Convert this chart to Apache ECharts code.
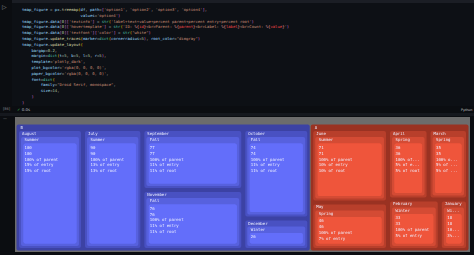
<!DOCTYPE html>
<html><head><meta charset="utf-8">
<script src="https://cdn.jsdelivr.net/npm/echarts@6/dist/echarts.min.js"></script>
<style>
html,body{margin:0;padding:0;background:#0b0d11;width:474px;height:255px;overflow:hidden;}
#topbar{position:absolute;left:12px;top:0;width:462px;height:3px;background:#1b1e25;}
#cell{position:absolute;left:12px;top:3px;width:462px;height:103px;background:#0d1015;}
#code{position:absolute;left:22px;top:7px;margin:0;font-family:'DejaVu Sans Mono',monospace;font-size:3.9px;line-height:5.8px;color:#d4d4d4;white-space:pre;}
.g{position:absolute;font-family:'DejaVu Sans',sans-serif;color:#8a8d93;}
#sep{position:absolute;left:0;top:113px;width:474px;height:3px;background:#15181e;}
#chart{position:absolute;left:0;top:0;width:474px;height:255px;}
</style></head>
<body>
<div id="topbar"></div>
<div id="cell"></div>
<pre id="code"></pre>
<div class="g" style="left:2px;top:3px;font-size:6px;">▷</div>
<div class="g" style="left:3px;top:107px;font-size:3.5px;">[86]</div>
<div class="g" style="left:17px;top:107px;font-size:4px;color:#b9bcc2;"><span style="color:#3fb950">✓</span> 0.0s</div>
<div class="g" style="left:461px;top:108px;font-size:3.3px;color:#c8c8c8;">Python</div>
<div id="sep"></div>
<div class="g" style="left:3px;top:116px;font-size:4px;">—</div>
<div id="chart"></div>
<script>
// ---- code cell text ----
const codeLines = [
"tmap_figure = px.treemap(df, path=['option1', 'option2', 'option3', 'option4'],",
"                         values='option4')",
"tmap_figure.data[0]['textinfo'] = str('label+text+value+percent parent+percent entry+percent root')",
"tmap_figure.data[0]['hovertemplate'] = str('ID: %{id}<br>Parent: %{parent}<br>Label: %{label}<br>Count: %{value}')",
"tmap_figure.data[0]['textfont']['color'] = str(\"white\")",
"tmap_figure.update_traces(marker=dict(cornerradius=5), root_color=\"dimgray\")",
"tmap_figure.update_layout(",
"    bargap=0.2,",
"    margin=dict(t=5, b=5, l=5, r=5),",
"    template='plotly_dark',",
"    plot_bgcolor='rgba(0, 0, 0, 0)',",
"    paper_bgcolor='rgba(0, 0, 0, 0)',",
"    font=dict(",
"        family=\"Droid Serif, monospace\",",
"        size=14,",
"    )",
")"
];
function esc(s){return s.replace(/&/g,'&amp;').replace(/</g,'&lt;').replace(/>/g,'&gt;');}
function hl(line){
  const re=/('[^']*'|"[^"]*")|(\d+(?:\.\d+)?)|([A-Za-z_]\w*)(\s*\()?|([\[\]\(\)])|(\s+|.)/g;
  let out='',m;
  while((m=re.exec(line))){
    if(m[1]){
      out+='<span style="color:#ce9178">'+esc(m[1]).replace(/%\{(\w+)\}/g,'<span style="color:#f0a0a0">%{</span><span style="color:#f44747">$1</span><span style="color:#f0a0a0">}</span>')+'</span>';
    } else if(m[2]) out+='<span style="color:#b5cea8">'+m[2]+'</span>';
    else if(m[3]){
      let c='#9cdcfe';
      if(m[3]==='str'||m[3]==='dict') c='#4ec9b0';
      else if(m[4]) c='#dcdcaa';
      out+='<span style="color:'+c+'">'+m[3]+'</span>'+(m[4]?'<span style="color:#ffd700">'+m[4]+'</span>':'');
    } else if(m[5]) out+='<span style="color:#da70d6">'+m[5]+'</span>';
    else out+=esc(m[6]);
  }
  return out;
}
document.getElementById('code').innerHTML=codeLines.map(hl).join('\n');

// ---- treemap data ----
const rootName = '';
const branchNames = ['B', 'A'];
const monthsB  = ['August','July','September','November','October','December'];
const seasonsB = ['Summer','Summer','Fall','Fall','Fall','Winter'];
const valuesB  = [100, 90, 77, 76, 74, 26];
const monthsA  = ['June','May','April','March','February','January'];
const seasonsA = ['Summer','Spring','Spring','Spring','Winter','Winter'];
const valuesA  = [71, 46, 36, 35, 33, 18];

const palB = ['#3c42a4','#4951c2','#5761de','#636efa'];
const palA = ['#9a3222','#b83f2b','#d44b34','#ef553b'];

const total = valuesB.concat(valuesA).reduce((a,b)=>a+b,0);

function branch(name, months, seasons, values, pal){
  return {
    name: name, itemStyle:{borderColor: pal[0]},
    children: months.map((m,i)=>({
      name: m, itemStyle:{borderColor: pal[1]},
      children:[{
        name: seasons[i], itemStyle:{borderColor: pal[2]},
        children:[{ name: String(values[i]), value: values[i], itemStyle:{color: pal[3], borderColor: pal[3]} }]
      }]
    }))
  };
}
const treeData = [{
  name: rootName,
  itemStyle:{borderColor:'#6c6c6c'},
  children:[
    branch(branchNames[0], monthsB, seasonsB, valuesB, palB),
    branch(branchNames[1], monthsA, seasonsA, valuesA, palA)
  ]
}];

const font = {fontFamily:'DejaVu Sans Mono', fontSize:4, color:'#eef0ff'};
const chart = echarts.init(document.getElementById('chart'), null, {renderer:'canvas'});
chart.setOption({
  animation:false,
  series:[{
    type:'treemap',
    left:15, top:117, width:455, height:135,
    roam:false, nodeClick:false,
    breadcrumb:{show:false},
    squareRatio:0.96,
    data: treeData,
    label:{show:false},
    levels:[
      {itemStyle:{borderWidth:0, gapWidth:0}},
      {itemStyle:{borderWidth:1.5, gapWidth:1}, upperLabel:{show:true, height:7.5, formatter:''}},
      {itemStyle:{borderWidth:2.5, gapWidth:4, borderRadius:2},
       upperLabel:Object.assign({show:true, height:6.5, padding:[0,0,0,1.5]}, font)},
      {itemStyle:{borderWidth:2, gapWidth:3, borderRadius:2},
       upperLabel:Object.assign({show:true, height:6, padding:[0,0,0,1]}, font)},
      {itemStyle:{borderWidth:2.5, gapWidth:2, borderRadius:2},
       upperLabel:Object.assign({show:true, height:6.5, padding:[0,0,0,1]}, font)},
      {itemStyle:{borderWidth:0, borderRadius:2},
       label:Object.assign({show:true, position:'insideTopLeft', lineHeight:5.8, padding:[1.5,1,0,1],
         formatter:function(p){
           const pct = Math.round(p.value/total*100);
           return p.name+'\n'+p.value+'\n100% of parent\n'+pct+'% of entry\n'+pct+'% of root';
         }}, font)}
    ]
  }]
});
</script>
</body></html>
